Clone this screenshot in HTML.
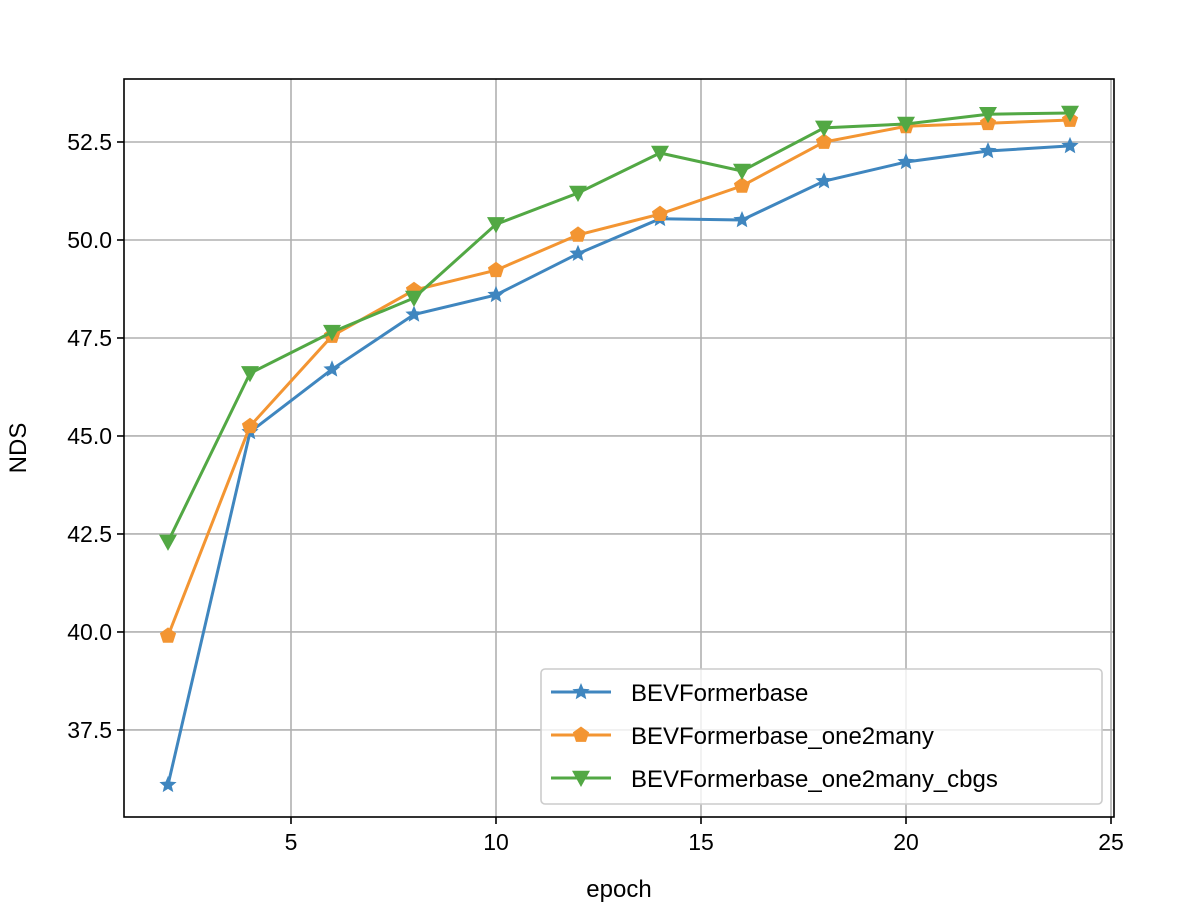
<!DOCTYPE html>
<html><head><meta charset="utf-8"><style>
body{margin:0;background:#fff}
svg{display:block;font-family:"Liberation Sans",sans-serif}
</style></head><body>
<svg id="chart" width="1194" height="920"></svg>
<script>
const epochs=[2,4,6,8,10,12,14,16,18,20,22,24];
const baseVals=[36.1,45.1,46.7,48.1,48.6,49.65,50.54,50.51,51.5,51.99,52.27,52.4];
const one2manyVals=[39.9,45.25,47.55,48.72,49.23,50.13,50.66,51.38,52.5,52.9,52.98,53.06];
const cbgsVals=[42.3,46.6,47.65,48.52,50.4,51.2,52.22,51.76,52.86,52.96,53.21,53.24];
const xTicks=[5,10,15,20,25];
const yTicks=[37.5,40.0,42.5,45.0,47.5,50.0,52.5];
const seriesNames=["BEVFormerbase","BEVFormerbase_one2many","BEVFormerbase_one2many_cbgs"];

const L=124,R=1114,T=79,B=817;
const xMin=0.927,xMax=25.073,yMin=35.28,yMax=54.107;
const xs=v=>L+(v-xMin)/(xMax-xMin)*(R-L);
const ys=v=>B-(v-yMin)/(yMax-yMin)*(B-T);
const svg=document.getElementById('chart');
const NS="http://www.w3.org/2000/svg";
function mk(tag,attrs,parent){const e=document.createElementNS(NS,tag);for(const k in attrs)e.setAttribute(k,attrs[k]);(parent||svg).appendChild(e);return e;}

xTicks.forEach(t=>{const x=xs(t);
 const g=mk('line',{x1:x,x2:x,y1:T,y2:B,stroke:'#b0b0b0','stroke-width':1.6});
 
 
 mk('line',{x1:x,x2:x,y1:B,y2:B+7,stroke:'#000','stroke-width':1.6});
 const tx=mk('text',{x:x,y:B+33,'text-anchor':'middle','font-size':23});tx.textContent=t;
 
 
});
yTicks.forEach(t=>{const y=ys(t);
 const g=mk('line',{x1:L,x2:R,y1:y,y2:y,stroke:'#b0b0b0','stroke-width':1.6});
 
 
 mk('line',{x1:L-7,x2:L,y1:y,y2:y,stroke:'#000','stroke-width':1.6});
 const tx=mk('text',{x:L-12,y:y+8,'text-anchor':'end','font-size':23});tx.textContent=t.toFixed(1);
 
 
});

function star(cx,cy,r){let p=[];for(let i=0;i<10;i++){const a=-Math.PI/2+i*Math.PI/5;const rr=i%2?r*0.45:r;p.push((cx+rr*Math.cos(a)).toFixed(1)+','+(cy+rr*Math.sin(a)).toFixed(1));}return p.join(' ');}
function pent(cx,cy,r){let p=[];for(let i=0;i<5;i++){const a=-Math.PI/2+i*2*Math.PI/5;p.push((cx+r*Math.cos(a)).toFixed(1)+','+(cy+r*Math.sin(a)).toFixed(1));}return p.join(' ');}
function tri(cx,cy,r){return `${cx-r},${cy-r*0.8} ${cx+r},${cy-r*0.8} ${cx},${cy+r}`;}
const markers=[(x,y)=>star(x,y,9),(x,y)=>pent(x,y,8.5),(x,y)=>tri(x,y,9)];
const colors=['#3f86bf','#f39532','#52a844'];
const allVals=[baseVals,one2manyVals,cbgsVals];
const sNames=['series-bevformerbase','series-one2many','series-one2many-cbgs'];

allVals.forEach((vals,si)=>{
 const g=mk('g',{});
 
 
 const pts=vals.map((v,i)=>xs(epochs[i]).toFixed(1)+','+ys(v).toFixed(1)).join(' ');
 mk('polyline',{points:pts,fill:'none',stroke:colors[si],'stroke-width':3},g);
 vals.forEach((v,i)=>{const m=mk('polygon',{points:markers[si](xs(epochs[i]),ys(v)),fill:colors[si]},g);
  
  });
});

mk('rect',{x:L,y:T,width:R-L,height:B-T,fill:'none',stroke:'#000','stroke-width':1.6});

const xl=mk('text',{x:(L+R)/2,y:897,'text-anchor':'middle','font-size':24});xl.textContent='epoch';


const yl=mk('text',{x:0,y:0,'text-anchor':'middle','font-size':24,transform:`translate(26,${(T+B)/2}) rotate(-90)`});yl.textContent='NDS';



const lg=mk('g',{});


mk('rect',{x:541,y:669,width:561,height:135,rx:4,fill:'#fff','fill-opacity':0.8,stroke:'#ccc','stroke-width':1.6},lg);
seriesNames.forEach((n,i)=>{const y=692+i*43;
 const e=mk('g',{},lg);
 
 
 mk('line',{x1:551,x2:611,y1:y,y2:y,stroke:colors[i],'stroke-width':3},e);
 mk('polygon',{points:markers[i](581,y),fill:colors[i]},e);
 const t=mk('text',{x:631,y:y+9,'font-size':24},e);t.textContent=n;
});
</script>
</body></html>
